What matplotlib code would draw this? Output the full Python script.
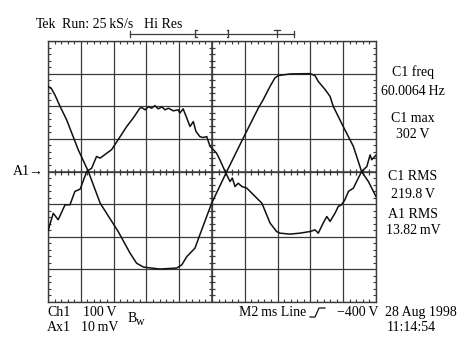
import numpy as np
import matplotlib
matplotlib.use("Agg")
import matplotlib.pyplot as plt

plt.rcParams["font.family"] = ["Liberation Serif", "DejaVu Serif"]

# Channel 1 (line voltage), in screen divisions
ch1_x = [0.01, 0.11, 0.21, 0.37, 0.57, 0.92, 1.23, 1.59, 2.14, 2.50, 2.70, 2.91,
         3.41, 3.92, 4.08, 4.23, 4.48, 4.63, 4.99, 5.45, 5.95, 6.41, 6.56, 6.77,
         6.92, 7.02, 7.38, 7.99, 8.14, 8.24, 8.45, 8.60, 8.70, 9.00, 9.31, 9.56,
         9.77, 10.00]
ch1_y = [2.61, 2.53, 2.35, 1.99, 1.58, 0.67, 0.00, -0.97, -1.84, -2.50, -2.81, -2.93,
         -2.99, -2.96, -2.86, -2.61, -2.35, -1.94, -0.97, 0.00, 1.02, 1.94, 2.20, 2.61,
         2.87, 2.94, 2.99, 3.00, 2.94, 2.76, 2.51, 2.30, 1.99, 1.38, 0.77, 0.00,
         -0.31, -0.77]

# A1 (current probe), in screen divisions
a1_x = [0.01, 0.16, 0.31, 0.52, 0.67, 0.82, 0.98, 1.18, 1.33, 1.48, 1.59, 1.79,
        1.94, 2.20, 2.40, 2.60, 2.80, 2.86, 2.96, 3.06, 3.16, 3.26, 3.36, 3.47,
        3.57, 3.67, 3.82, 3.97, 4.02, 4.12, 4.23, 4.33, 4.43, 4.51, 4.63, 4.73,
        4.84, 4.94, 5.04, 5.14, 5.24, 5.40, 5.55, 5.62, 5.70, 5.80, 5.91, 6.06,
        6.26, 6.52, 6.77, 6.97, 7.07, 7.38, 7.68, 7.99, 8.14, 8.24, 8.39, 8.50,
        8.60, 8.75, 8.85, 8.95, 9.05, 9.16, 9.31, 9.56, 9.72, 9.82, 9.87, 10.00]
a1_y = [-1.79, -1.28, -1.48, -1.02, -1.02, -0.61, -0.54, 0.00, 0.10, 0.46, 0.41, 0.56,
        0.67, 1.07, 1.38, 1.64, 1.94, 1.96, 1.89, 1.99, 1.94, 2.02, 1.92, 1.98,
        1.89, 1.94, 1.86, 1.89, 1.79, 1.92, 1.64, 1.38, 1.53, 1.23, 1.07, 1.04,
        1.07, 0.77, 0.67, 0.56, 0.36, 0.00, -0.31, -0.20, -0.46, -0.36, -0.46, -0.51,
        -0.71, -0.97, -1.58, -1.84, -1.89, -1.92, -1.89, -1.84, -1.79, -1.89, -1.58, -1.38,
        -1.53, -1.28, -1.07, -1.02, -0.87, -0.61, -0.51, 0.00, 0.15, 0.51, 0.36, 0.50]

W, H = 474, 352
GRID = "#3a3a3a"

fig = plt.figure(figsize=(W / 100, H / 100), dpi=100)
ax = fig.add_axes([48 / W, (H - 302) / H, (376 - 48) / W, (302 - 41) / H])
ax.set_xlim(0, 10)
ax.set_ylim(-4, 4)
ax.set_xticks(np.arange(0, 11, 1))
ax.set_yticks(np.arange(-4, 5, 1))
ax.set_xticks(np.arange(0, 10.01, 0.2), minor=True)
ax.set_yticks(np.arange(-4, 4.01, 0.2), minor=True)
ax.grid(True, which="major", color=GRID, lw=0.9)
ax.tick_params(which="both", direction="in", top=True, right=True,
               labelbottom=False, labelleft=False, color=GRID)
ax.tick_params(which="major", length=0)
ax.tick_params(which="minor", length=2.5, width=0.8)
for s in ax.spines.values():
    s.set_color(GRID)
    s.set_linewidth(1.0)

# centre graticule with fine ticks
cx = np.arange(0, 10.01, 0.2)
cy = np.arange(-4, 4.01, 0.2)
ax.axhline(0, color=GRID, lw=1.1)
ax.axvline(5, color=GRID, lw=1.1)
ax.plot(cx, np.zeros_like(cx), ls="none", marker="|", ms=5, mew=0.9, color=GRID)
ax.plot(np.full_like(cy, 5), cy, ls="none", marker="_", ms=5, mew=0.9, color=GRID)

ax.plot(ch1_x, ch1_y, color="#111111", lw=1.1, zorder=5)
ax.plot(a1_x, a1_y, color="#111111", lw=1.1, zorder=5)

# screen annotations in pixel coordinates
ov = fig.add_axes([0, 0, 1, 1])
ov.set_xlim(0, W)
ov.set_ylim(H, 0)
ov.axis("off")

fs = 10
ov.text(36, 24, "Tek", fontsize=fs, va="center")
ov.text(62, 24, "Run: 25\u2009kS/s", fontsize=fs, va="center")
ov.text(144, 24, "Hi Res", fontsize=fs, va="center")

# record-length bar
ov.plot([130, 294], [33.5, 33.5], color=GRID, lw=0.9)
for x in [130, 294]:
    ov.plot([x, x], [30.5, 36.5], color=GRID, lw=0.9)
ov.plot([195.5, 195.5], [30, 37], color=GRID, lw=0.9)
ov.plot([195.5, 197], [30, 30], color=GRID, lw=0.9)
ov.plot([195.5, 197], [37, 37], color=GRID, lw=0.9)
ov.plot([228.5, 228.5], [30, 37], color=GRID, lw=0.9)
ov.plot([227, 228.5], [30, 30], color=GRID, lw=0.9)
ov.plot([227, 228.5], [37, 37], color=GRID, lw=0.9)
ov.plot([274, 280], [30, 30], color=GRID, lw=0.9)
ov.plot([277, 277], [30, 37], color=GRID, lw=0.9)

ov.text(44, 171.7, "A1\u2192", fontsize=fs, va="center", ha="right",
        family=["Liberation Serif", "DejaVu Sans"])

# measurement readouts
rx = 413
for y, s in [(71.7, "C1 freq"), (91.7, "60.0064\u2009Hz"), (119, "C1 max"),
             (135, "302\u2009V"), (176.7, "C1 RMS"), (194, "219.8\u2009V"),
             (215, "A1 RMS"), (230.7, "13.82\u2009mV")]:
    ov.text(rx, y, s, fontsize=fs, va="center", ha="center")

# bottom status line
ov.text(47, 312.7, "Ch1", fontsize=fs, va="center")
ov.text(83, 312.7, "100\u2009V", fontsize=fs, va="center")
ov.text(47, 327.7, "Ax1", fontsize=fs, va="center")
ov.text(81, 327.7, "10\u2009mV", fontsize=fs, va="center")
ov.text(128, 318, "B", fontsize=fs, va="center")
ov.text(136, 322, "w", fontsize=8.5, va="center")
ov.text(239, 312.7, "M2\u2009ms Line", fontsize=fs, va="center")
ov.plot([310, 315, 319, 325], [317, 317, 308, 308], color="#111111", lw=0.9)
ov.text(337, 312.7, "\u2212400\u2009V", fontsize=fs, va="center")
ov.text(385, 312.7, "28 Aug 1998", fontsize=fs, va="center")
ov.text(387, 327.7, "11:14:54", fontsize=fs, va="center")

fig.savefig("out.png", dpi=100, facecolor="white")
